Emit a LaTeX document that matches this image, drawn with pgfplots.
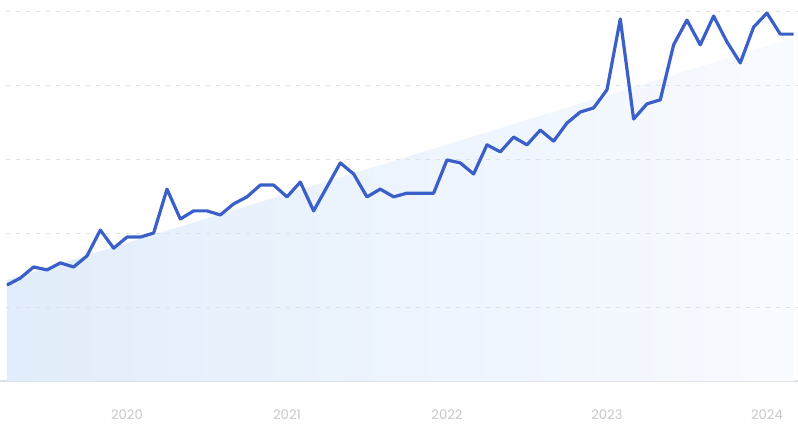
\documentclass[border=0pt]{standalone}
\usepackage{pgfplots}
\pgfplotsset{compat=1.18}
\usepackage{fontspec}
\setmainfont{Poppins}

\definecolor{lineblue}{HTML}{3B5FC8}
\definecolor{shadeL}{HTML}{E2EDFB}
\definecolor{shadeR}{HTML}{F8FBFF}
\definecolor{gridc}{HTML}{DCE2E7}
\definecolor{labelc}{HTML}{C6C8CB}

\begin{document}
\begin{tikzpicture}
  % fixed page: 798x424 px at 0.5pt per px
  \useasboundingbox (0pt,-21.5pt) rectangle (399pt,190.5pt);
  \begin{axis}[
      at={(0pt,0pt)}, anchor=south west,
      scale only axis,
      width=399pt, height=190.5pt,
      xmin=-0.525, xmax=59.33,
      ymin=0, ymax=103.25,
      axis x line=bottom,
      axis y line=none,
      x axis line style={draw=gridc, line width=0.6pt, -},
      xtick={9,21,33,45,57},
      xticklabels={2020,2021,2022,2023,2024},
      major tick length=0pt,
      xticklabel style={font=\fontsize{6.6}{7}\selectfont, text=labelc, yshift=-11pt},
      /pgf/number format/assume math mode=true,
      clip=false,
    ]

    % shaded trend area
    \addplot[draw=none, left color=shadeL, right color=shadeR]
      coordinates {(0,27.4) (59,93.0)} \closedcycle;

    % dashed grid, drawn over the shade
    \pgfplotsinvokeforeach{20,40,60,80,100}{
      \draw[gridc, line width=0.5pt, dash pattern=on 2pt off 3pt]
        (axis cs:-0.08,#1) -- (axis cs:59.33,#1);
    }

    % monthly series, Apr 2019 .. Mar 2024
    \addplot[lineblue, line width=1.6pt, line join=round, mark=none] coordinates {
      (0,26.0) (1,27.9) (2,30.9) (3,30.1) (4,32.0) (5,30.9) (6,33.9) (7,40.9)
      (8,36.0) (9,39.0) (10,39.0) (11,40.1) (12,52.0) (13,43.9) (14,46.1) (15,46.1)
      (16,45.0) (17,48.0) (18,49.9) (19,53.1) (20,53.1) (21,49.9) (22,53.9) (23,46.1)
      (24,52.6) (25,59.1) (26,56.1) (27,49.9) (28,52.0) (29,49.9) (30,50.9) (31,50.9)
      (32,50.9) (33,59.9) (34,59.1) (35,56.1) (36,64.0) (37,62.1) (38,66.1) (39,64.0)
      (40,68.0) (41,65.0) (42,69.9) (43,72.9) (44,74.0) (45,78.9) (46,98.1) (47,71.0)
      (48,75.1) (49,76.2) (50,91.1) (51,97.8) (52,91.1) (53,98.9) (54,91.9) (55,86.2)
      (56,95.9) (57,99.7) (58,94.0) (59,94.0)
    };
  \end{axis}
\end{tikzpicture}
\end{document}
